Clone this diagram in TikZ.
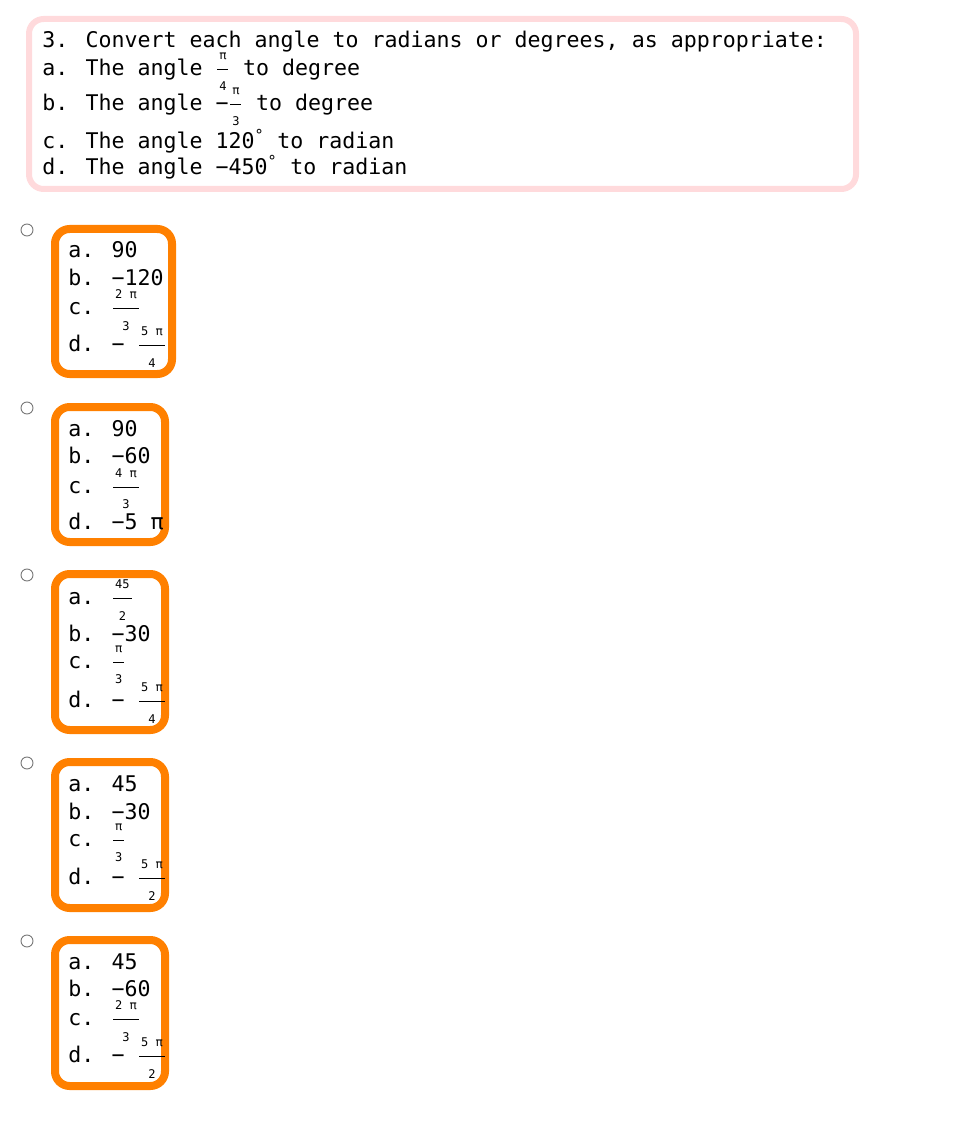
\documentclass[tikz,border=0pt]{standalone}
\usepackage{fontspec}
\setmainfont{DejaVu Sans Mono}
\newcommand{\fr}[2]{\ensuremath{\displaystyle\frac{\hbox{\fontsize{9}{10}\selectfont\,#1\,}}{\hbox{\fontsize{9}{10}\selectfont #2}}}}
\begin{document}
\begin{tikzpicture}[x=0.75pt,y=-0.75pt,
  txt/.style={anchor=west,inner sep=0pt,font=\fontsize{16.2}{18}\selectfont},
  qbox/.style={draw={rgb,255:red,255;green,218;blue,220},line width=4.5pt,rounded corners=11pt},
  obox/.style={draw={rgb,255:red,255;green,128;blue,0},line width=6pt,rounded corners=11pt},
  radio/.style={draw={rgb,255:red,120;green,120;blue,120},line width=0.7pt,circle,minimum size=9pt,inner sep=0pt}]
\useasboundingbox (0,0) rectangle (979,1123);
\draw[qbox] (29,19) rectangle (856,189);
\node[txt] (q0) at (42,42) {3. Convert each angle to radians or degrees, as appropriate:};
\node[txt] (qa) at (42,72) {a. The angle \fr{π}{4} to degree};
\node[txt] (qb) at (42,107) {b. The angle −\fr{π}{3} to degree};
\node[txt] (qc) at (42,141) {c. The angle 120\textsuperscript{°} to radian};
\node[txt] (qd) at (42,167) {d. The angle −450\textsuperscript{°} to radian};
% option 1
\node[radio] (r1) at (27,230) {};
\draw[obox] (55,229) rectangle (172,374);
\node[txt] (o1a) at (68,250) {a. 90};
\node[txt] (o1b) at (68,277) {b. −120};
\node[txt] (o1c) at (68,310) {c. \fr{2 π}{3}};
\node[txt] (o1d) at (68,347) {d. − \fr{5 π}{4}};
% option 2
\node[radio] (r2) at (27,408) {};
\draw[obox] (55,407) rectangle (165,542);
\node[txt] (o2a) at (68,429) {a. 90};
\node[txt] (o2b) at (68,455) {b. −60};
\node[txt] (o2c) at (68,489) {c. \fr{4 π}{3}};
\node[txt] (o2d) at (68,521) {d. −5 π};
% option 3
\node[radio] (r3) at (27,575) {};
\draw[obox] (55,574) rectangle (165,730);
\node[txt] (o3a) at (68,600) {a. \fr{45}{2}};
\node[txt] (o3b) at (68,633) {b. −30};
\node[txt] (o3c) at (68,665) {c. \fr{π}{3}};
\node[txt] (o3d) at (68,703) {d. − \fr{5 π}{4}};
% option 4
\node[radio] (r4) at (27,763) {};
\draw[obox] (55,762) rectangle (165,908);
\node[txt] (o4a) at (68,784) {a. 45};
\node[txt] (o4b) at (68,811) {b. −30};
\node[txt] (o4c) at (68,843) {c. \fr{π}{3}};
\node[txt] (o4d) at (68,880) {d. − \fr{5 π}{2}};
% option 5
\node[radio] (r5) at (27,941) {};
\draw[obox] (55,940) rectangle (165,1086);
\node[txt] (o5a) at (68,962) {a. 45};
\node[txt] (o5b) at (68,988) {b. −60};
\node[txt] (o5c) at (68,1021) {c. \fr{2 π}{3}};
\node[txt] (o5d) at (68,1058) {d. − \fr{5 π}{2}};
\end{tikzpicture}
\end{document}
